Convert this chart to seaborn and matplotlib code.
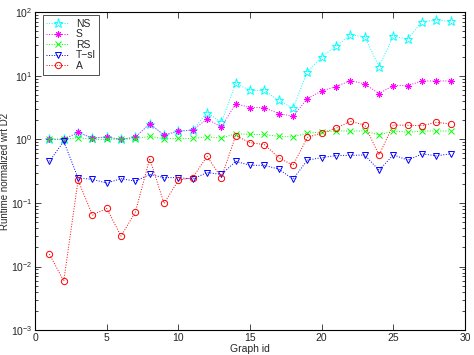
import numpy as np
import pandas as pd
import matplotlib
matplotlib.use('Agg')
import matplotlib.pyplot as plt
import seaborn as sns

# --- data ---
graph_id = list(range(1, 30))
ns = [1.0, 1.0, 1.25, 1.05, 1.08, 1.0, 1.08, 1.75, 1.15, 1.33, 1.4, 2.63, 1.85, 7.6,
      5.85, 5.85, 4.1, 3.07, 11.5, 19.5, 29.3, 43.6, 41.0, 13.9, 42.0, 37.3, 70.9, 74.5, 72.0]
s = [1.0, 1.0, 1.29, 1.05, 1.08, 1.0, 1.08, 1.76, 1.17, 1.35, 1.39, 2.09, 1.56, 3.64,
     3.15, 3.15, 2.54, 2.30, 4.36, 5.75, 6.74, 8.4, 7.4, 5.24, 7.0, 7.0, 8.26, 8.26, 8.26]
rs = [1.0, 1.0, 1.06, 1.0, 1.0, 1.0, 1.02, 1.11, 1.02, 1.03, 1.03, 1.1, 1.04, 1.23,
      1.19, 1.19, 1.11, 1.09, 1.25, 1.30, 1.35, 1.35, 1.35, 1.17, 1.35, 1.29, 1.35, 1.35, 1.35]
tsl = [0.45, 0.93, 0.246, 0.235, 0.205, 0.24, 0.22, 0.28, 0.25, 0.25, 0.237, 0.30, 0.28, 0.45,
       0.39, 0.39, 0.34, 0.237, 0.47, 0.515, 0.555, 0.56, 0.566, 0.326, 0.57, 0.47, 0.59, 0.55, 0.59]
a = [0.0157, 0.0059, 0.227, 0.0645, 0.082, 0.030, 0.072, 0.497, 0.098, 0.227, 0.25, 0.54, 0.25, 1.14,
     0.887, 0.825, 0.515, 0.39, 1.07, 1.26, 1.49, 1.92, 1.68, 0.566, 1.68, 1.66, 1.64, 1.85, 1.74]

series_names = ['NS', 'S', 'RS', 'T\u2212sl', 'A']
series_values = [ns, s, rs, tsl, a]
series_colors = ['#00ffff', '#ff00ff', '#00ff00', '#0000ff', '#ff0000']
series_markers = ['*', (8, 2, 0), 'x', 'v', 'o']
series_sizes = [6.5, 4.5, 4, 4.5, 4.5]

df = pd.DataFrame({'graph': graph_id * len(series_names),
                   'value': sum(series_values, []),
                   'series': np.repeat(series_names, len(graph_id))})

sns.set_style('ticks')
plt.rcParams['font.family'] = ['Liberation Sans', 'DejaVu Sans']
plt.rcParams['mathtext.fontset'] = 'custom'
plt.rcParams['mathtext.rm'] = 'Liberation Sans'
plt.rcParams['font.size'] = 7

fig = plt.figure(figsize=(4.74, 3.55), dpi=100)
ax = fig.add_axes([0.074, 0.070, 0.907, 0.896])

for name, color, marker, size in zip(series_names, series_colors, series_markers, series_sizes):
    sub = df[df['series'] == name]
    sns.lineplot(data=sub, x='graph', y='value', ax=ax, marker=marker, markersize=size,
                 markeredgewidth=0.7, linewidth=0.7, linestyle=':', color=color, label=name,
                 markerfacecolor='none' if marker in ('*', 'v', 'o') else color,
                 markeredgecolor=color)

ax.set_yscale('log')
ax.set_xlim(0, 30)
ax.set_ylim(1e-3, 1e2)
ax.set_xticks([0, 5, 10, 15, 20, 25, 30])
ax.set_yticks([1e-3, 1e-2, 1e-1, 1e0, 1e1, 1e2])
ax.set_yticklabels([r'$10^{-3}$', r'$10^{-2}$', r'$10^{-1}$', r'$10^{0}$', r'$10^{1}$', r'$10^{2}$'])
ax.tick_params(which='both', direction='in', top=True, right=True, labelsize=7.5, width=0.6)
ax.tick_params(which='major', length=4, pad=2)
ax.tick_params(which='minor', length=2)
for sp in ax.spines.values():
    sp.set_linewidth(0.8)
    sp.set_color('black')

ax.set_xlabel('Graph id', fontsize=7.5, labelpad=1)
ax.set_ylabel('Runtime normalized wrt D2', fontsize=7)
ax.yaxis.set_label_coords(-0.058, 0.5)

leg = ax.legend(loc='upper left', bbox_to_anchor=(0.018, 0.99), fontsize=7.5, frameon=True,
                fancybox=False, edgecolor='black', handlelength=2.2, labelspacing=0.05,
                borderpad=0.35, handletextpad=0.6, borderaxespad=0.0)
leg.get_frame().set_linewidth(0.6)

fig.savefig('out.png', dpi=100)
